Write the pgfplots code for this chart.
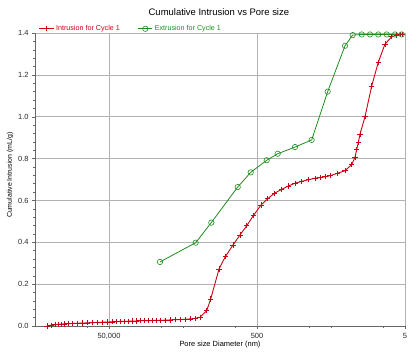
\documentclass[border=0pt]{standalone}
\usepackage{pgfplots}
\pgfplotsset{compat=1.18}
\usepackage{fontspec}
\setmainfont{Liberation Sans}
\definecolor{myred}{RGB}{204,0,20}
\definecolor{mygreen}{RGB}{30,140,30}
\begin{document}
\begin{tikzpicture}
\path[use as bounding box] (-35bp,-28bp) rectangle (383bp,326bp);
\begin{axis}[
  at={(0,0)}, anchor=south west,
  scale only axis, width=370bp, height=293bp,
  xmode=log, x dir=reverse,
  xmin=5, xmax=500000, ymin=0, ymax=1.4,
  clip=false,
  axis x line*=bottom, axis y line*=left,
  axis line style={black!60, line width=0.6pt},
  xtick={50000,500,5}, xticklabels={{50,000},500,5},
  minor xtick={100000,10000,5000,1000,100,50,10},
  ytick={0,0.2,0.4,0.6,0.8,1.0,1.2,1.4},
  minor y tick num=4,
  yticklabel style={/pgf/number format/fixed, /pgf/number format/fixed zerofill, /pgf/number format/precision=1},
  /pgf/number format/assume math mode=true,
  tick align=outside,
  major tick length=3bp, minor tick length=2bp,
  tick style={black!60, line width=0.4pt},
  grid=major,
  major grid style={black!30, line width=0.5pt},
  ticklabel style={font=\fontsize{7.5}{8}\selectfont, text=black!85},
  xticklabel style={yshift=-1bp},
  every axis title shift=0pt,
  title={Cumulative Intrusion vs Pore size},
  title style={font=\fontsize{9.5}{11}\selectfont, at={(axis description cs:0.497,1)}, anchor=center, yshift=20.7bp},
  xlabel={Pore size Diameter (nm)},
  xlabel style={font=\fontsize{7.5}{9}\selectfont, at={(axis description cs:0.5,-0.0625)}, anchor=center},
  ylabel={Cumulative Intrusion (mL/g)},
  ylabel style={font=\fontsize{7}{8}\selectfont, at={(axis description cs:-0.0676,0.515)}, anchor=center},
  legend columns=2,
  legend style={draw=none, fill=none, at={(axis description cs:0.0108,1.003)}, anchor=south west, yshift=-2bp,
    font=\fontsize{7.2}{8}\selectfont, inner sep=0pt, outer sep=0pt,
    /tikz/every even column/.append style={column sep=16bp}},
  legend image code/.code={\draw[mark repeat=2,mark phase=2] plot coordinates {(0cm,0cm) (0.25cm,0cm) (0.5cm,0cm)};},
]
\addplot[myred, line width=0.9pt, mark=+, mark size=2.6bp, mark options={line width=0.6pt}] coordinates {
(344300,0.000) (303900,0.004) (268400,0.006) (244500,0.008) (222600,0.009)
(202800,0.010) (179100,0.011) (158100,0.012) (135300,0.013) (115800,0.014)
(99150,0.015) (84850,0.016) (72630,0.017) (62180,0.018) (53210,0.019)
(45550,0.020) (40220,0.021) (35510,0.022) (31360,0.022) (27680,0.023)
(24450,0.024) (21590,0.024) (19060,0.025) (16830,0.025) (14860,0.026)
(13120,0.026) (11580,0.027) (10230,0.027) (8755,0.028) (7494,0.029)
(6414,0.030) (5490,0.031) (4699,0.032) (4022,0.034) (3443,0.036)
(2946,0.042) (2392,0.073) (2112,0.129) (1631,0.272) (1341,0.331)
(1055,0.387) (848.5,0.435) (688.9,0.479) (561.0,0.527) (441.5,0.578)
(358.4,0.608) (291.9,0.634) (231.9,0.653) (188.8,0.669) (153.3,0.682)
(124.4,0.691) (101.3,0.699) (82.27,0.706) (70.40,0.709) (60.27,0.713)
(51.58,0.718) (40.60,0.730) (32.34,0.742) (26.26,0.771) (23.70,0.806)
(22.47,0.844) (21.38,0.876) (20.28,0.917) (17.36,1.000) (14.09,1.147)
(11.48,1.260) (9.318,1.347) (7.563,1.382) (6.474,1.390) (5.843,1.393)
(5.439,1.394)
};
\addlegendentry{\textcolor{myred}{Intrusion for Cycle 1}}
\addplot[mygreen, line width=0.8pt, mark=o, mark size=2.7bp, mark options={line width=0.6pt}] coordinates {
(10230,0.306) (3369,0.398) (2073,0.494) (911.4,0.664) (608.3,0.734)
(369.8,0.792) (262.6,0.823) (153.3,0.855) (91.17,0.889) (55.41,1.120)
(32.34,1.339) (25.46,1.390) (19.24,1.393) (14.86,1.393) (11.48,1.393)
(8.839,1.393) (6.826,1.393) (5.541,1.393)
};
\addlegendentry{\textcolor{mygreen}{Extrusion for Cycle 1}}
\end{axis}
\end{tikzpicture}
\end{document}
